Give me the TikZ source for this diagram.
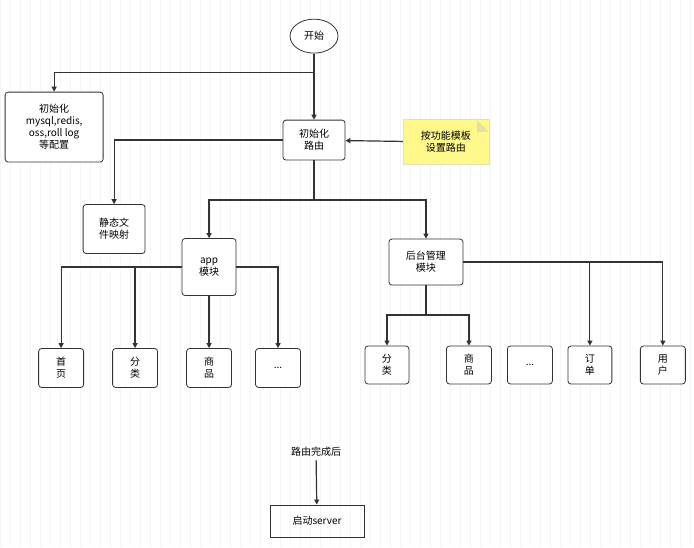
\documentclass[tikz,border=0pt]{standalone}
\usepackage{fontspec}
\setmainfont{Noto Sans CJK SC}
\usetikzlibrary{arrows.meta,shapes.geometric}

\begin{document}
\begin{tikzpicture}[x=1pt,y=-1pt,
  box/.style={draw=black!80,thick,rounded corners=3pt,fill=white,align=center,font=\fontsize{10}{12}\selectfont,inner sep=1pt},
  every edge/.style={draw=black!80,line width=1.2pt,-{Triangle[length=5pt,width=5pt]}},
  link/.style={draw=black!80,line width=1.2pt},
  arr/.style={link,-{Triangle[length=5pt,width=5pt]}},
]
  % background grid
  \fill[white] (0,0) rectangle (694,547);
  \draw[black!4,line width=0.3pt,step=10] (0,0) grid (694,547);
  \useasboundingbox (0,0) rectangle (694,547);

  % start and setup
  \node[box,ellipse,minimum width=48pt,minimum height=34pt] (start) at (314,36) {开始};
  \node[box,minimum width=98pt,minimum height=70pt] (conf) at (54,127) {初始化\\mysql,redis,\\oss,roll log\\等配置};
  \node[box,minimum width=62pt,minimum height=40pt] (route) at (314,140) {初始化\\路由};
  \node[draw=yellow!60!black!30,fill=yellow!45,minimum width=86pt,minimum height=45pt,align=center,
        font=\fontsize{10}{12}\selectfont,inner sep=1pt] (note) at (446,142) {按功能模板\\设置路由};
  \fill[yellow!70!black!40] (477,120) -- (489,132) -- (477,132) -- cycle;
  \node[box,minimum width=62pt,minimum height=49pt] (static) at (114,229) {静态文\\件映射};

  % modules
  \node[box,minimum width=54pt,minimum height=57pt] (app) at (209,267) {app\\模块};
  \node[box,minimum width=74pt,minimum height=46pt] (admin) at (426,262) {后台管理\\模块};

  % app pages
  \node[box,minimum width=45pt,minimum height=39pt] (home) at (61,368) {首\\页};
  \node[box,minimum width=45pt,minimum height=39pt] (cat) at (135,368) {分\\类};
  \node[box,minimum width=45pt,minimum height=39pt] (goods) at (209,368) {商\\品};
  \node[box,minimum width=45pt,minimum height=39pt] (more) at (278,368) {...};

  % admin pages
  \node[box,minimum width=44pt,minimum height=38pt] (acat) at (387,365) {分\\类};
  \node[box,minimum width=45pt,minimum height=38pt] (agoods) at (469,365) {商\\品};
  \node[box,minimum width=45pt,minimum height=38pt] (amore) at (530,365) {...};
  \node[box,minimum width=44pt,minimum height=38pt] (order) at (590,365) {订\\单};
  \node[box,minimum width=45pt,minimum height=38pt] (user) at (663,365) {用\\户};

  % server
  \node[font=\fontsize{10}{12}\selectfont] (done) at (316,452) {路由完成后};
  \node[draw=black!80,thick,minimum width=94pt,minimum height=32pt,font=\fontsize{10}{12}\selectfont] (server) at (317,521) {启动server};

  % connectors
  \path (start) edge (route);
  \draw[arr] (314,72) -| (conf.north);
  \path (note) edge (route);
  \draw[arr] (route.west) -| (static.north);
  \draw[link] (route.south) -- (314,200);
  \draw[arr] (314,200) -| (app.north);
  \draw[arr] (314,200) -| (admin.north);

  \draw[arr] (app.west) -| (home.north);
  \draw[arr] (135,267) -- (cat.north);
  \path (app) edge (goods);
  \draw[arr] (app.east) -| (more.north);

  \draw[link] (admin.south) -- (426,315);
  \draw[arr] (426,315) -| (acat.north);
  \draw[arr] (426,315) -| (agoods.north);
  \draw[arr] (admin.east) -| (user.north);
  \draw[arr] (590,262) -- (order.north);

  \path (done) edge (server);
\end{tikzpicture}
\end{document}
